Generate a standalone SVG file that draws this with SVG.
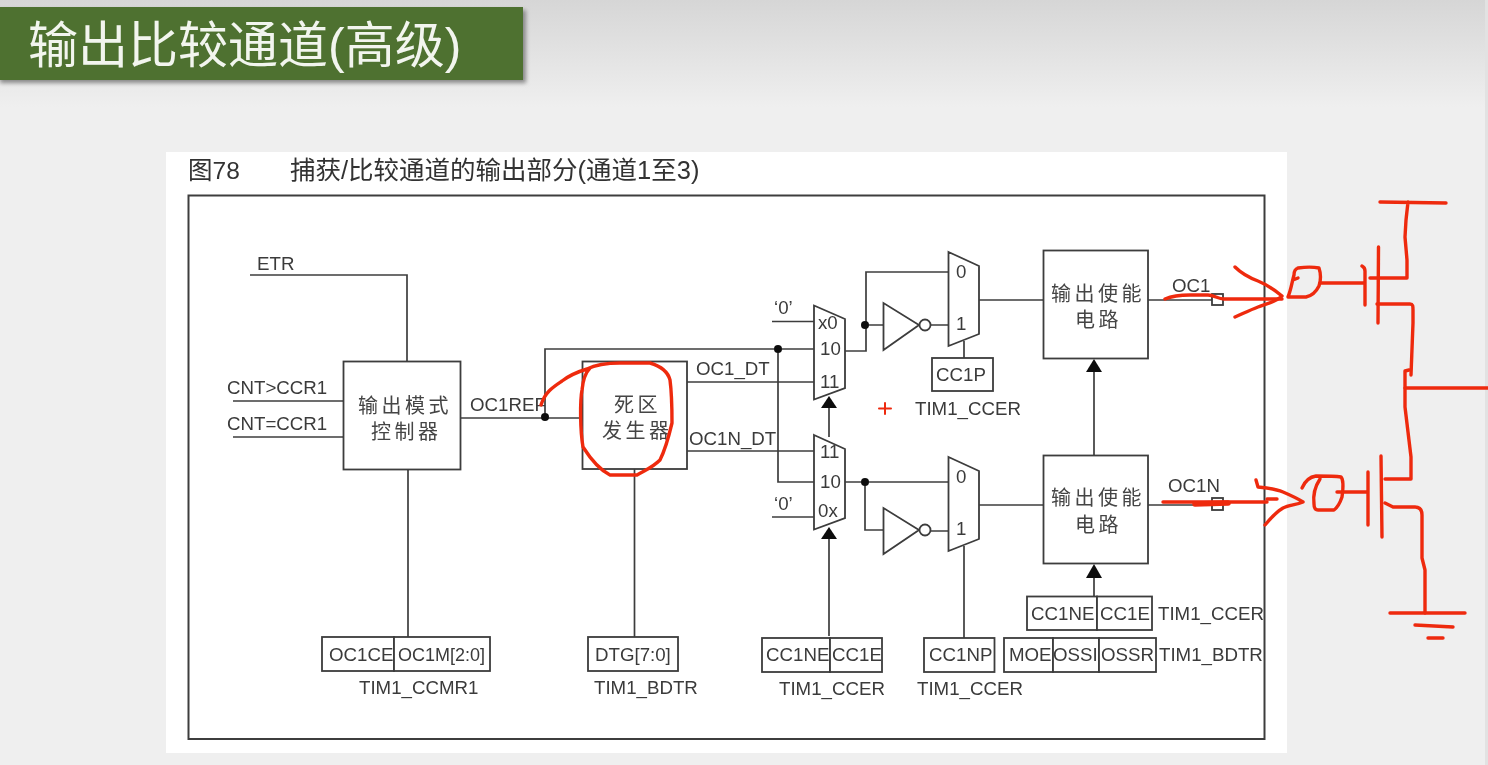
<svg xmlns="http://www.w3.org/2000/svg" width="1488" height="765" viewBox="0 0 1488 765">
<style>
text{font-family:"Liberation Sans","Noto Sans CJK SC",sans-serif;font-size:18.7px;fill:#3a3a3a}
.cn{font-size:20px;letter-spacing:3.5px;fill:#444}
.cap{font-size:25.500px;fill:#333}
.ttl{font-size:50px;fill:#f2f5ee}
.s{font-size:18px}
.w{fill:none;stroke:#3c3c3c;stroke-width:1.7}
.b{fill:#fff;stroke:#3c3c3c;stroke-width:1.8}
.dot{fill:#111}
.hd{fill:#111}
.r{fill:none;stroke:#ee2a10;stroke-width:3.4;stroke-linecap:round;stroke-linejoin:round}
.plus{stroke-width:2}
.thick{stroke-width:5.500}
</style>
<defs>
<linearGradient id="bg" x1="0" y1="0" x2="0" y2="1"><stop offset="0" stop-color="#d6d6d6"/><stop offset="0.14" stop-color="#efefef"/><stop offset="1" stop-color="#efefef"/></linearGradient>
<filter id="soft" x="-2%" y="-2%" width="104%" height="104%"><feGaussianBlur stdDeviation="0.45"/></filter>
<filter id="sh" x="-5%" y="-20%" width="110%" height="140%"><feGaussianBlur stdDeviation="2"/></filter>
</defs>
<rect width="1488" height="765" fill="url(#bg)"/>
<rect x="1485" y="0" width="3" height="765" fill="#e2e2e2"/>
<rect x="0" y="10" width="526" height="73" fill="#888" filter="url(#sh)"/>
<rect x="0" y="7" width="523" height="73" fill="#4e7130"/>
<text class="ttl" x="28" y="63" id="title">输出比较通道(高级)</text>
<rect x="166" y="152" width="1121" height="601" fill="#fff"/>
<g filter="url(#soft)">
<text class="cap" x="188" y="179" style="font-size:24.500px">图78</text>
<text class="cap" x="290" y="179">捕获/比较通道的输出部分(通道1至3)</text>
<rect id="frame" x="188.500" y="195.500" width="1076" height="543.500" fill="none" stroke="#3c3c3c" stroke-width="2"/>
<g id="connectors">
<path class="w" d="M250 275H407V361"/>
<path class="w" d="M233 401H343M233 437H343"/>
<path class="w" d="M460 418H582"/>
<path class="w" d="M545 418V349H814"/>
<path class="w" d="M687 382H814M687 451H814"/>
<path class="w" d="M778 349V482H814"/>
<path class="w" d="M772 321.500H814M772 517H814"/>
<path class="w" d="M845 351H866V272H949"/>
<path class="w" d="M866 325H884M931 325H949"/>
<path class="w" d="M845 482H949M865 482V530H884M931 531H949"/>
<path class="w" d="M964 341V358M964 546V638"/>
<path class="w" d="M979 300H1043M979 505H1043"/>
<path class="w" d="M1148 300H1212M1148 505H1212"/>
<path class="w" d="M408 469V637M634.500 469V637"/>
<path class="w" d="M829 437V405M829 636V536"/>
<path class="w" d="M1094 455V370M1094 597V575"/>
<path class="hd" d="M829 396L837 408H821Z"/>
<path class="hd" d="M829 527L837 539H821Z"/>
<path class="hd" d="M1094 359L1102 372H1086Z"/>
<path class="hd" d="M1094 564L1102 578H1086Z"/>
<circle class="dot" cx="545" cy="417" r="4"/>
<circle class="dot" cx="778" cy="349" r="4"/>
<circle class="dot" cx="865" cy="325" r="4"/>
<circle class="dot" cx="865" cy="482" r="4"/>
</g>
<g id="etr-labels">
<text x="257" y="270">ETR</text>
<text x="227" y="394">CNT&gt;CCR1</text>
<text x="227" y="430">CNT=CCR1</text>
<text x="470" y="411">OC1REF</text>
<text x="696" y="375">OC1_DT</text>
<text x="689" y="445">OC1N_DT</text>
<text x="774" y="314">‘0’</text>
<text x="774" y="510">‘0’</text>
<text x="1172" y="292">OC1</text>
<text x="1168" y="492">OC1N</text>
</g>
<g id="mode-controller"><rect class="b" x="343.500" y="361.500" width="117" height="108"/><text class="cn" x="358" y="413">输出模式</text><text class="cn" x="371" y="439">控制器</text></g>
<g id="dead-time"><rect class="b" x="582.500" y="361.500" width="104.500" height="107.500"/><text class="cn" x="614" y="412">死区</text><text class="cn" x="602" y="438">发生器</text></g>
<g id="mux1"><path class="b" d="M814 305.500L845 319V388L814 399.500Z"/><text x="818" y="329">x0</text><text x="820" y="355">10</text><text x="820" y="388">11</text></g>
<g id="mux2"><path class="b" d="M814 435L845 449V518L814 529.500Z"/><text x="820" y="458">11</text><text x="820" y="488">10</text><text x="818" y="517">0x</text></g>
<g id="inv1"><path class="b" d="M883.500 303V350L919 325Z"/><circle class="b" cx="925" cy="325" r="5.500"/></g>
<g id="inv2"><path class="b" d="M883.500 508V554L919 530Z"/><circle class="b" cx="925" cy="530" r="5.500"/></g>
<g id="mux3"><path class="b" d="M948.500 252L979 266V334L948.500 346Z"/><text x="956" y="278">0</text><text x="956" y="330">1</text></g>
<g id="mux4"><path class="b" d="M948.500 457L979 471V539L948.500 551Z"/><text x="956" y="483">0</text><text x="956" y="535">1</text></g>
<g id="cc1p"><rect class="b" x="932" y="358" width="61" height="33"/><text x="936" y="381">CC1P</text><text x="915" y="415">TIM1_CCER</text></g>
<g id="enable1"><rect class="b" x="1043.500" y="250.500" width="104.500" height="108"/><text class="cn" x="1051" y="301">输出使能</text><text class="cn" x="1075" y="327">电路</text></g>
<g id="enable2"><rect class="b" x="1043.500" y="455.500" width="104.500" height="108"/><text class="cn" x="1051" y="505">输出使能</text><text class="cn" x="1075" y="532">电路</text></g>
<g id="pad1"><rect class="b" x="1212" y="294" width="11" height="11"/></g>
<g id="pad2"><rect class="b" x="1212" y="498" width="11" height="12"/></g>
<g id="ccmr1"><rect class="b" x="322" y="637" width="72" height="34"/><rect class="b" x="394" y="637" width="96" height="34"/><text x="329" y="661">OC1CE</text><text x="398" y="661" class="s">OC1M[2:0]</text><text x="359" y="694">TIM1_CCMR1</text></g>
<g id="dtg"><rect class="b" x="588" y="637" width="90" height="34"/><text x="595" y="661">DTG[7:0]</text><text x="594" y="694">TIM1_BDTR</text></g>
<g id="ccer-a"><rect class="b" x="762" y="638" width="68" height="34"/><rect class="b" x="830" y="638" width="52" height="34"/><text x="766" y="661">CC1NE</text><text x="832" y="661">CC1E</text><text x="779" y="695">TIM1_CCER</text></g>
<g id="cc1np"><rect class="b" x="924" y="638" width="70.500" height="34"/><text x="929" y="661">CC1NP</text><text x="917" y="695">TIM1_CCER</text></g>
<g id="ccer-b"><rect class="b" x="1027" y="596.500" width="70" height="33.500"/><rect class="b" x="1097" y="596.500" width="55" height="33.500"/><text x="1031" y="620">CC1NE</text><text x="1100" y="620">CC1E</text><text x="1158" y="620">TIM1_CCER</text></g>
<g id="bdtr"><rect class="b" x="1004" y="638" width="49" height="34"/><rect class="b" x="1053" y="638" width="46" height="34"/><rect class="b" x="1099" y="638" width="57" height="34"/><text x="1009" y="661">MOE</text><text x="1053" y="661">OSSI</text><text x="1101" y="661">OSSR</text><text x="1159" y="661">TIM1_BDTR</text></g>
</g>
<g id="annotations" filter="url(#soft)">
<path class="r" d="M541 405C545 392 553 387 562 381C570 375 577 372 587 369C597 364 607 363 620 363H650C660 366 668 372 670 380C672 395 672 410 672 423C668 440 665 450 660 460C652 468 645 470 637 475H610C600 470 590 458 583 447C580 430 580 400 582 390C583 380 585 373 590 368"/>
<path class="r plus" d="M885 403V414M879 408.500H891"/>
<path class="r" d="M1165 299C1172 296 1180 295 1190 295H1208C1214 295 1218 299 1224 299H1282"/>
<path class="r" d="M1235 267C1240 272 1250 278 1258 281C1268 285 1276 291 1282 296C1276 302 1266 304 1258 307C1250 310 1242 314 1235 317"/>
<path class="r" d="M1163 502H1267"/>
<path class="r thick" d="M1195 504L1228 503"/>
<path class="r" d="M1256 480L1258 487C1268 488 1276 489 1283 492C1290 495 1297 498 1303 502C1296 505 1289 505 1283 508C1276 512 1270 519 1265 525M1267 499H1277"/>
<path class="r" d="M1298 268C1305 267 1314 267 1319 268C1321 274 1321 280 1319 286C1316 292 1311 296 1306 297H1288C1291 290 1292 282 1294 275C1294 272 1295 269 1298 268M1293 280L1298 278"/>
<path class="r" d="M1320 283H1363M1362 266C1364 267 1365 269 1365 271V305M1378.500 247L1378 323"/>
<path class="r" d="M1380 202L1446 203M1408 202L1406 220L1405 237L1407 260V278H1370"/>
<path class="r" d="M1377 304H1410C1413 304 1413 306 1413 310V323L1411 375"/>
<path class="r" d="M1409 370L1405 371V407L1411 457V479H1385"/>
<path class="r" d="M1405 388H1488"/>
<path class="r" d="M1381 456L1382 537M1368 472V525M1337 492H1367"/>
<path class="r" d="M1302 488C1305 481 1309 477 1316 476C1325 476 1335 476 1341 477C1344 480 1343 490 1342 497C1340 503 1338 507 1334 510H1318C1315 510 1314 508 1314 504C1313 496 1314 488 1320 479"/>
<path class="r" d="M1385 503L1393 507H1415C1420 507 1422 510 1422 515V558L1425 570V613"/>
<path class="r" d="M1390 613H1465M1415 625L1453 627M1428 638H1443"/>
</g>
</svg>
